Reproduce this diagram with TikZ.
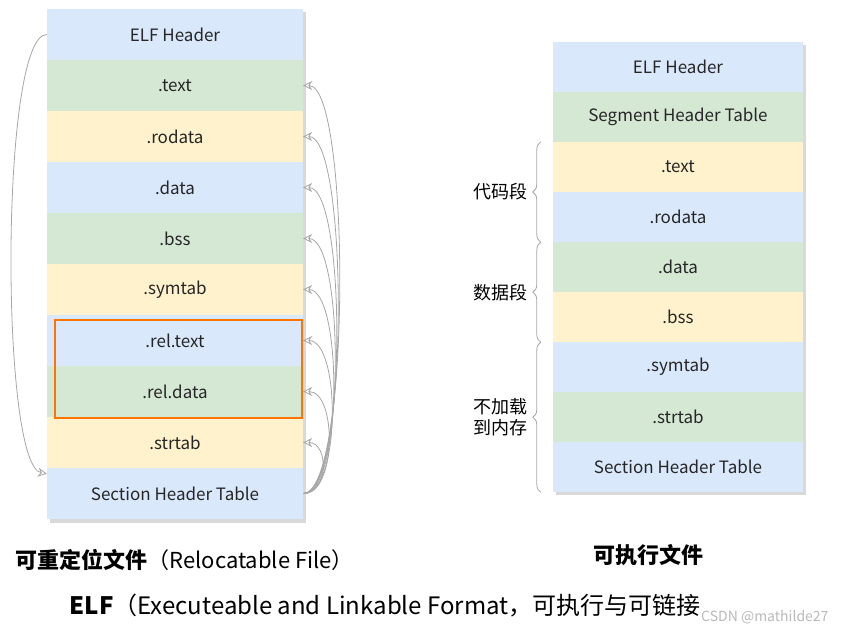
\documentclass[tikz,border=0pt]{standalone}
\usepackage{fontspec}
\setmainfont{Noto Sans CJK SC}
\usetikzlibrary{positioning,calc,decorations.pathreplacing,arrows.meta}
\definecolor{cblue}{HTML}{DAE8FC}
\definecolor{cgreen}{HTML}{D5E8D4}
\definecolor{cyellow}{HTML}{FFF2CC}
\tikzset{
  lrow/.style={draw=none, minimum width=256pt, minimum height=51pt, inner sep=0pt, font=\fontsize{17}{19}\selectfont, text=black!85},
  rrow/.style={draw=none, minimum width=250pt, minimum height=50pt, inner sep=0pt, font=\fontsize{17}{19}\selectfont, text=black!85},
  link/.style={draw=gray!70, line width=0.8pt, -{Stealth[open,length=9pt,width=9pt]}},
  seg/.style={decorate, decoration={brace, amplitude=8pt, mirror}, draw=gray!70, line width=0.8pt},
  seglabel/.style={font=\fontsize{18}{21}\selectfont, left=10pt, align=center},
}
\begin{document}
\begin{tikzpicture}[x=1pt,y=-1pt]
\useasboundingbox (0,0) rectangle (843,632);
% left column
\fill[gray!30] (50,12) rectangle (306,523);
\foreach \n/\t/\c [count=\i from 0] in {l0/ELF Header/cblue, l1/.text/cgreen, l2/.rodata/cyellow, l3/.data/cblue, l4/.bss/cgreen, l5/.symtab/cyellow, l6/.rel.text/cblue, l7/.rel.data/cgreen, l8/.strtab/cyellow, l9/Section Header Table/cblue}
  \node[lrow, fill=\c] (\n) at (175, 34.5+51*\i) {\t};
\draw[orange!90!red, line width=2pt] (55,320) rectangle (302,418);
% right column
\fill[gray!30] (556,45) rectangle (806,495);
\foreach \n/\t/\c [count=\i from 0] in {r0/ELF Header/cblue, r1/Segment Header Table/cgreen, r2/.text/cyellow, r3/.rodata/cblue, r4/.data/cgreen, r5/.bss/cyellow, r6/.symtab/cblue, r7/.strtab/cgreen, r8/Section Header Table/cblue}
  \node[rrow, fill=\c] (\n) at (678, 67+50*\i) {\t};
% links
\draw[link] (l0.west) .. controls (0,34) and (0,465) .. ([yshift=-6pt]l9.north west);
\foreach \k/\d in {1/48, 2/46, 3/44, 4/42, 5/40, 6/38, 7/34, 8/26}
  \draw[link] (l9.east) .. controls (303+\d,494) and (303+\d,{34.5+51*\k}) .. (l\k.east);
% braces
\draw[seg] (r2.north west) ++(-12,0) coordinate (b0) -- ([xshift=-12pt]r3.south west) coordinate (b1);
\draw[seg] (b1) -- ([xshift=-12pt]r5.south west) coordinate (b2);
\draw[seg] (b2) -- ([xshift=-12pt]r8.south west) coordinate (b3);
\node[seglabel] (s1) at ($(b0)!0.5!(b1)$) {代码段};
\node[seglabel] (s2) at ($(b1)!0.5!(b2)$) {数据段};
\node[seglabel] (s3) at ($(b2)!0.5!(b3)$) {不加载\\到内存};
% captions
\node[font=\fontsize{22}{24}\selectfont, anchor=west] (cap1) at (12,560) {\textbf{可重定位文件}（Relocatable File）};
\node[font=\bfseries\fontsize{22}{24}\selectfont] (cap2) at (648,555) {可执行文件};
\node[font=\fontsize{24}{26}\selectfont, anchor=west] (cap3) at (66,606) {\textbf{ELF}（Executeable and Linkable Format，可执行与可链接};
\node[font=\fontsize{14}{16}\selectfont, text=gray!55, anchor=east] (wm) at (832,617) {CSDN @mathilde27};
\end{tikzpicture}
\end{document}
